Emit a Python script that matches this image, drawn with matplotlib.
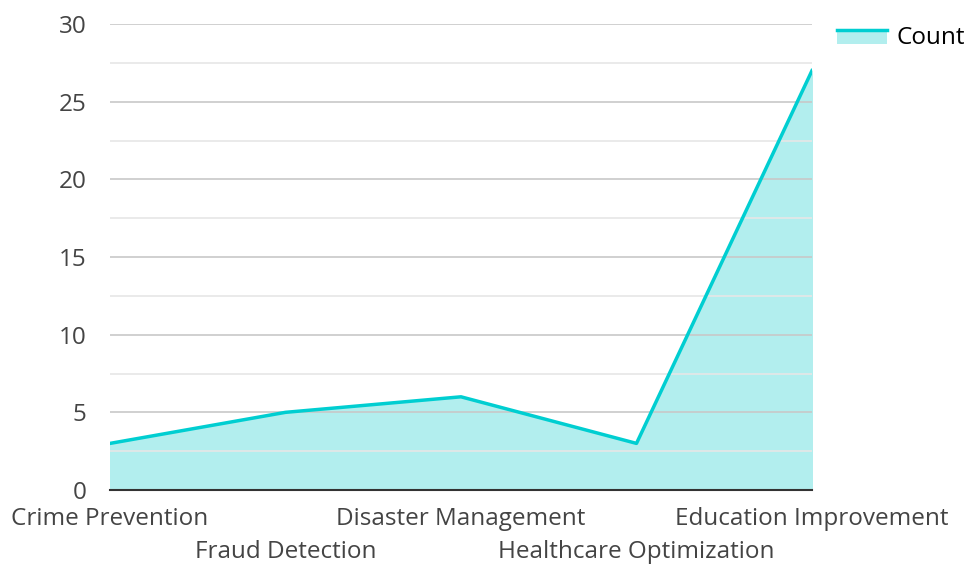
import numpy as np
import matplotlib.pyplot as plt
from matplotlib.patches import Rectangle
from matplotlib.lines import Line2D
from matplotlib.legend_handler import HandlerBase

plt.rcParams['font.family'] = ['Open Sans', 'DejaVu Sans']

categories = ['Crime Prevention', 'Fraud Detection', 'Disaster Management',
              'Healthcare Optimization', 'Education Improvement']
counts = [3, 5, 6, 3, 27]

line_color = '#00CED1'
fill_color = '#b2eeee'


class AreaHandler(HandlerBase):
    # legend key: filled box with the line on its top edge
    def create_artists(self, legend, orig_handle, xdescent, ydescent,
                       width, height, fontsize, trans):
        r = Rectangle((-xdescent, -ydescent), width, height * 0.85,
                      facecolor=fill_color, edgecolor='none', transform=trans)
        top = -ydescent + height * 0.85
        l = Line2D([-xdescent, -xdescent + width], [top, top],
                   color=line_color, lw=2.5, transform=trans)
        return [r, l]


fig = plt.figure(figsize=(9.7, 5.64), dpi=100)
ax = fig.add_axes([0.1134, 0.1312, 0.7237, 0.8262])

x = np.arange(len(categories))
ax.fill_between(x, counts, 0, color=fill_color, zorder=1)
ax.plot(x, counts, color=line_color, lw=2.5, zorder=3)

ax.set_xlim(0, len(categories) - 1)
ax.set_ylim(0, 30)
ax.set_yticks(np.arange(0, 31, 5))
ax.set_yticks(np.arange(2.5, 30, 5), minor=True)
ax.grid(axis='y', which='major', color='#c8c8c8', lw=1.2, zorder=2)
ax.grid(axis='y', which='minor', color='#e6e6e6', lw=1.2, zorder=2)
ax.set_axisbelow(False)

ax.set_xticks(x)
ax.set_xticklabels(categories)
ax.tick_params(axis='both', length=0, labelsize=17.5, colors='#444444')
ax.tick_params(axis='y', pad=17)
ax.tick_params(axis='y', which='minor', length=0)
# staggered category labels: every second one on a lower row
for i, t in enumerate(ax.xaxis.get_major_ticks()):
    t.set_pad(12.5 if i % 2 == 0 else 36)

for s in ['top', 'right', 'left']:
    ax.spines[s].set_visible(False)
ax.spines['bottom'].set_color('#333333')
ax.spines['bottom'].set_linewidth(1.5)
ax.spines['bottom'].set_zorder(4)

fig.legend([object()], ['Count'], handler_map={object: AreaHandler()},
           loc='upper left', bbox_to_anchor=(0.853, 0.971), frameon=False,
           borderaxespad=0, fontsize=17.5, handlelength=2.05, handleheight=0.7,
           handletextpad=0.4)

fig.savefig('out.png', dpi=100)
